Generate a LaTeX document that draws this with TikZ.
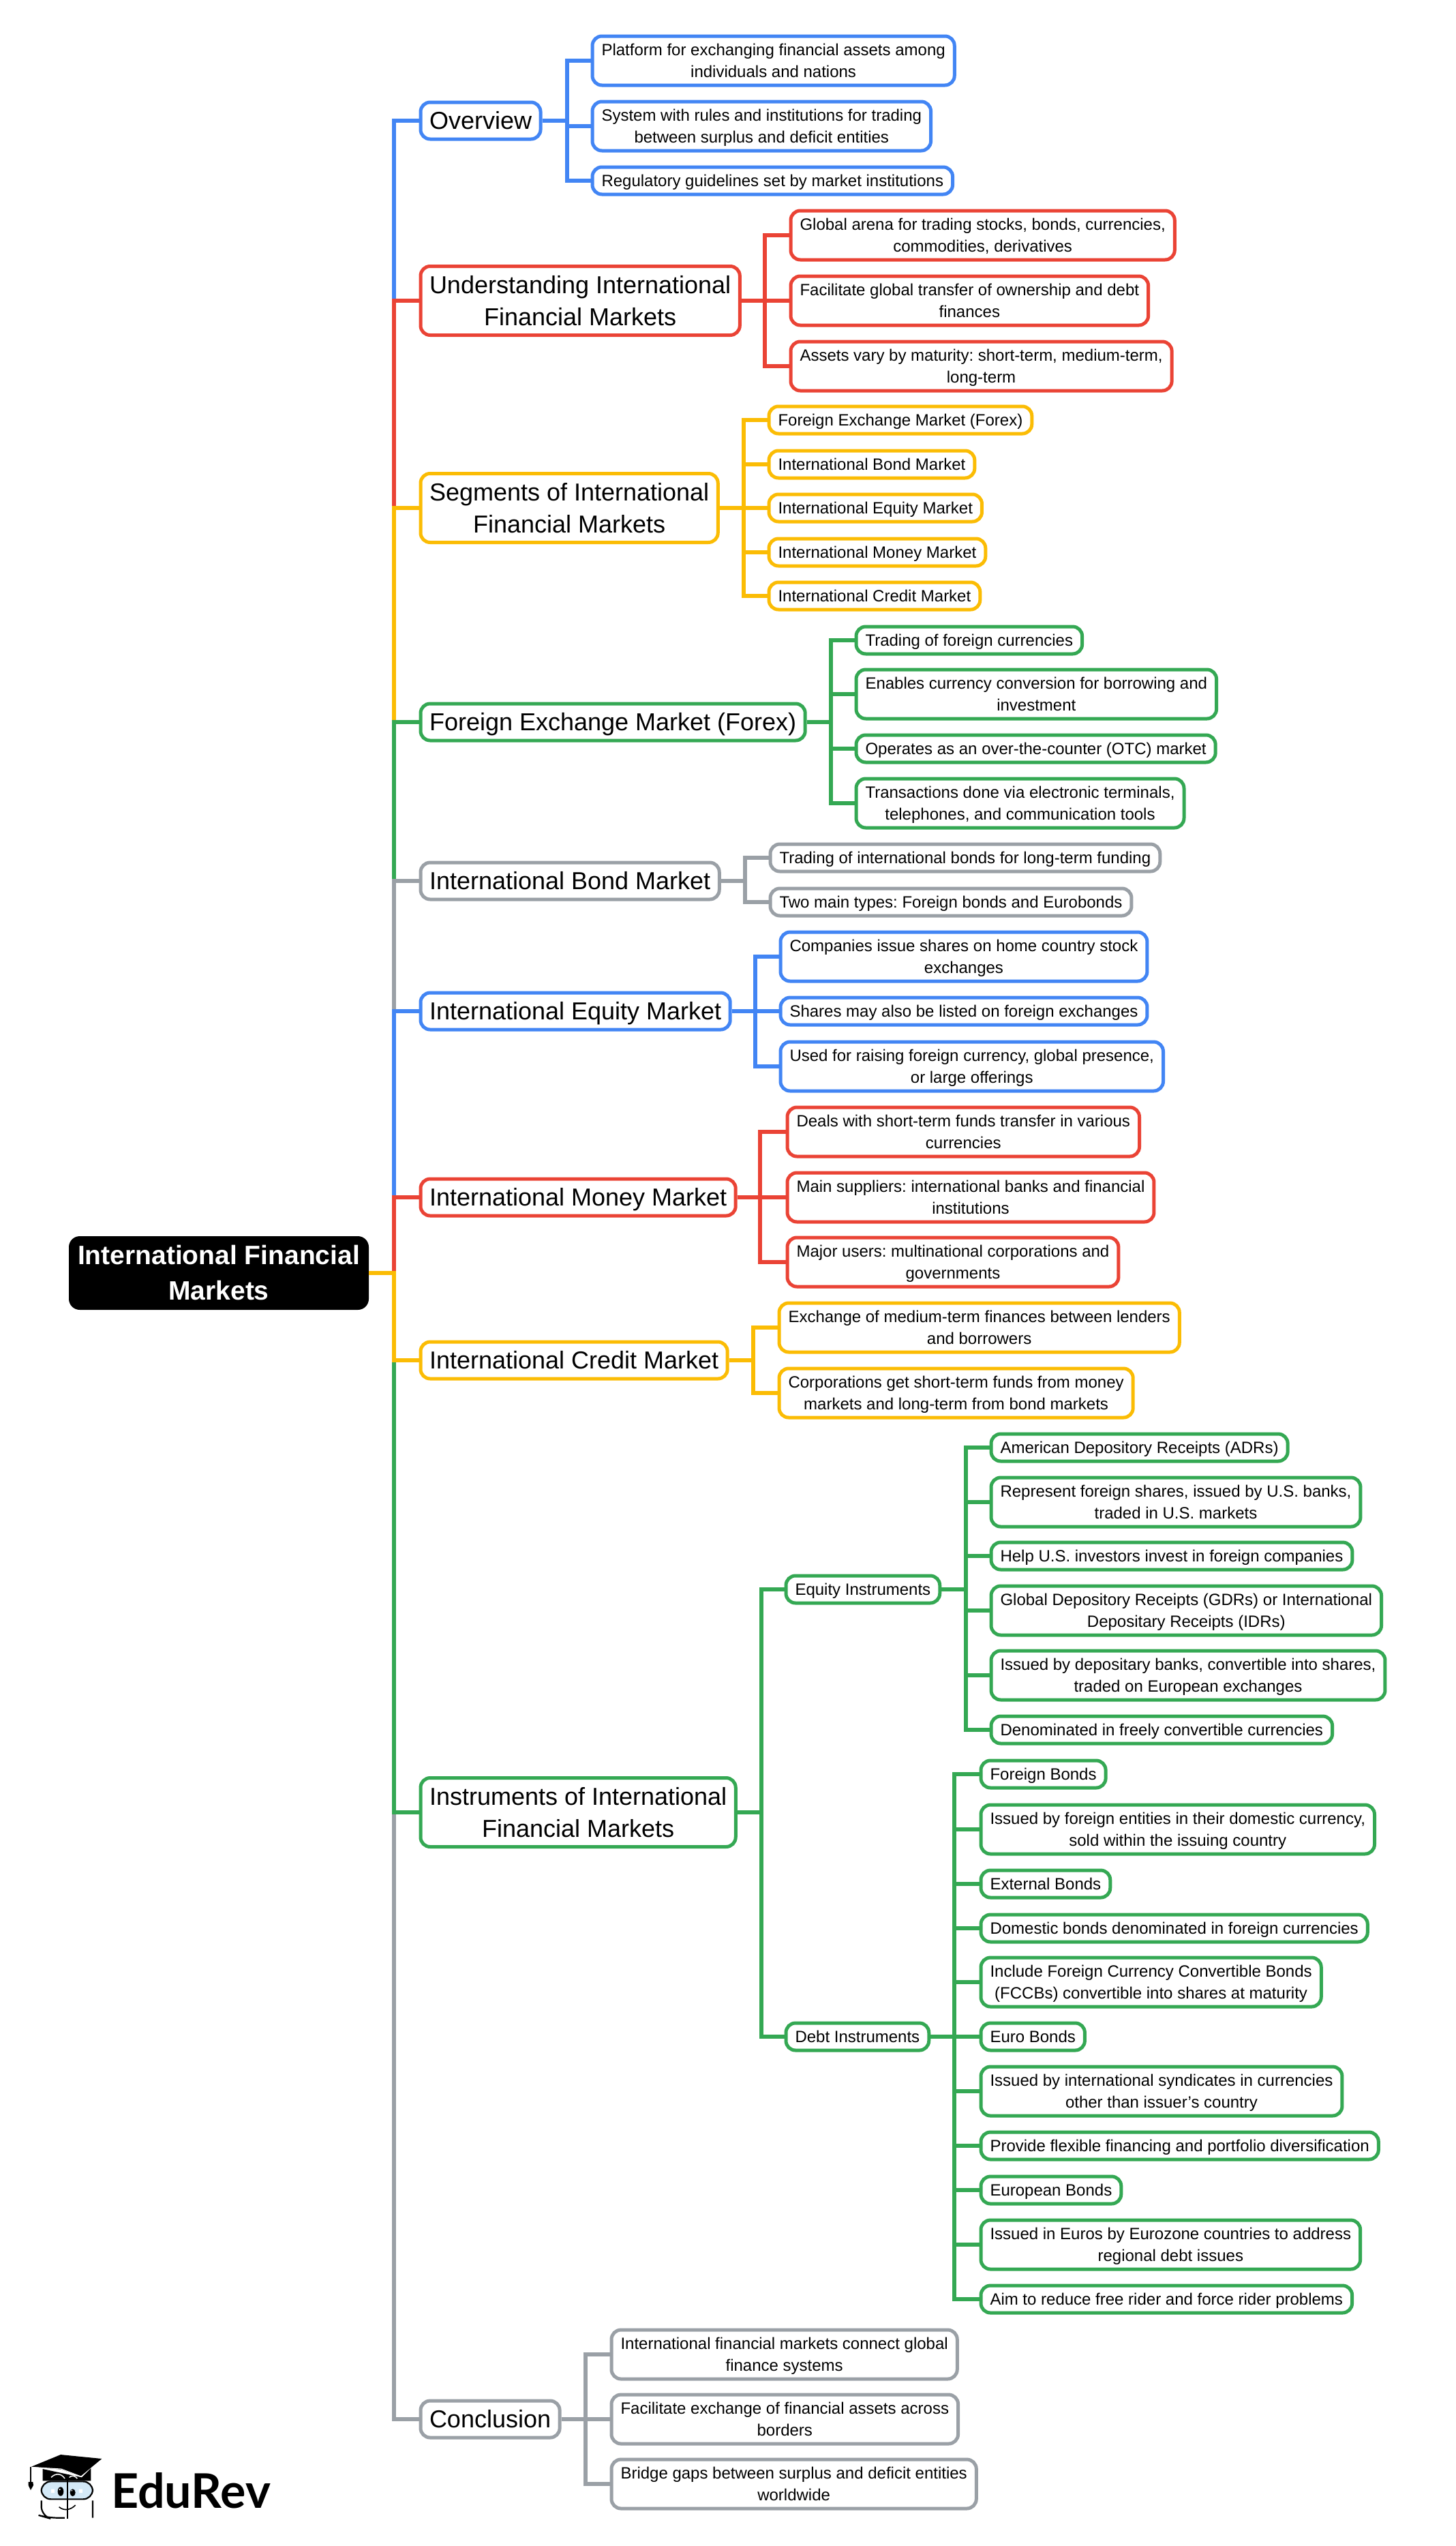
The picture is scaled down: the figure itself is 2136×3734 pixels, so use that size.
\documentclass[tikz,border=0pt]{standalone}
\usepackage{fontspec}
\setmainfont{Liberation Sans}
\newfontfamily\logofont{Lato}
\definecolor{gblue}{HTML}{4285F4}
\definecolor{gred}{HTML}{EA4335}
\definecolor{gyellow}{HTML}{FBBC04}
\definecolor{ggreen}{HTML}{34A853}
\definecolor{ggray}{HTML}{9AA0A6}
\definecolor{lens}{HTML}{D4E9F7}
\newcommand\lst{\vrule height .775\baselineskip depth .225\baselineskip width 0pt\relax}
\tikzset{
  box/.style={draw,line width=5pt,rounded corners=14pt,fill=white,anchor=west,align=center,text=black,xshift=-1.5pt},
  leaf/.style={box,inner xsep=13.5pt,inner ysep=4pt,font=\fontsize{24}{32}\selectfont\frenchspacing},
  topic/.style={box,inner xsep=13pt,inner ysep=3.5pt,font=\fontsize{36}{47}\selectfont\frenchspacing},
  link/.style={line width=6pt},
}
\begin{document}
\begin{tikzpicture}[x=1pt,y=-1pt]
\useasboundingbox (0,0) rectangle (2136,3734);

\node[fill=black,rounded corners=16pt,text=white,align=center,font=\fontsize{39}{52}\selectfont\bfseries,minimum width=440pt,minimum height=108pt,inner sep=0pt] (root) at (321,1867) {International Financial\\Markets};
\coordinate (spine) at (578,1867);

\node[topic,draw=gblue] (ov) at (616,177) {\lst Overview};
\node[topic,draw=gred] (un) at (616,441) {\lst Understanding International\\\lst Financial Markets};
\node[topic,draw=gyellow] (se) at (616,745) {\lst Segments of International\\\lst Financial Markets};
\node[topic,draw=ggreen] (fx) at (616,1059) {\lst Foreign Exchange Market (Forex)};
\node[topic,draw=ggray] (bo) at (616,1292) {\lst International Bond Market};
\node[topic,draw=gblue] (eq) at (616,1483) {\lst International Equity Market};
\node[topic,draw=gred] (mo) at (616,1756) {\lst International Money Market};
\node[topic,draw=gyellow] (cr) at (616,1995) {\lst International Credit Market};
\node[topic,draw=ggreen] (in) at (616,2658) {\lst Instruments of International\\\lst Financial Markets};
\node[topic,draw=ggray] (co) at (616,3548) {\lst Conclusion};

\node[leaf,draw=gblue] (ov1) at (868,89) {\lst Platform for exchanging financial assets among\\\lst individuals and nations};
\node[leaf,draw=gblue] (ov2) at (868,185) {\lst System with rules and institutions for trading\\\lst between surplus and deficit entities};
\node[leaf,draw=gblue] (ov3) at (868,265) {\lst Regulatory guidelines set by market institutions};

\node[leaf,draw=gred] (un1) at (1159,345) {\lst Global arena for trading stocks, bonds, currencies,\\\lst commodities, derivatives};
\node[leaf,draw=gred] (un2) at (1159,441) {\lst Facilitate global transfer of ownership and debt\\\lst finances};
\node[leaf,draw=gred] (un3) at (1159,537) {\lst Assets vary by maturity: short-term, medium-term,\\\lst long-term};

\node[leaf,draw=gyellow] (se1) at (1127,616) {\lst Foreign Exchange Market (Forex)};
\node[leaf,draw=gyellow] (se2) at (1127,681) {\lst International Bond Market};
\node[leaf,draw=gyellow] (se3) at (1127,745) {\lst International Equity Market};
\node[leaf,draw=gyellow] (se4) at (1127,810) {\lst International Money Market};
\node[leaf,draw=gyellow] (se5) at (1127,874) {\lst International Credit Market};

\node[leaf,draw=ggreen] (fx1) at (1255,939) {\lst Trading of foreign currencies};
\node[leaf,draw=ggreen] (fx2) at (1255,1018) {\lst Enables currency conversion for borrowing and\\\lst investment};
\node[leaf,draw=ggreen] (fx3) at (1255,1098) {\lst Operates as an over-the-counter (OTC) market};
\node[leaf,draw=ggreen] (fx4) at (1255,1178) {\lst Transactions done via electronic terminals,\\\lst telephones, and communication tools};

\node[leaf,draw=ggray] (bo1) at (1129,1258) {\lst Trading of international bonds for long-term funding};
\node[leaf,draw=ggray] (bo2) at (1129,1323) {\lst Two main types: Foreign bonds and Eurobonds};

\node[leaf,draw=gblue] (eq1) at (1144,1403) {\lst Companies issue shares on home country stock\\\lst exchanges};
\node[leaf,draw=gblue] (eq2) at (1144,1483) {\lst Shares may also be listed on foreign exchanges};
\node[leaf,draw=gblue] (eq3) at (1144,1564) {\lst Used for raising foreign currency, global presence,\\\lst or large offerings};

\node[leaf,draw=gred] (mo1) at (1154,1660) {\lst Deals with short-term funds transfer in various\\\lst currencies};
\node[leaf,draw=gred] (mo2) at (1154,1756) {\lst Main suppliers: international banks and financial\\\lst institutions};
\node[leaf,draw=gred] (mo3) at (1154,1851) {\lst Major users: multinational corporations and\\\lst governments};

\node[leaf,draw=gyellow] (cr1) at (1142,1947) {\lst Exchange of medium-term finances between lenders\\\lst and borrowers};
\node[leaf,draw=gyellow] (cr2) at (1142,2043) {\lst Corporations get short-term funds from money\\\lst markets and long-term from bond markets};

\node[leaf,draw=ggreen] (ei) at (1152,2331) {\lst Equity Instruments};
\node[leaf,draw=ggreen] (di) at (1152,2987) {\lst Debt Instruments};

\node[leaf,draw=ggreen] (ei1) at (1453,2123) {\lst American Depository Receipts (ADRs)};
\node[leaf,draw=ggreen] (ei2) at (1453,2203) {\lst Represent foreign shares, issued by U.S. banks,\\\lst traded in U.S. markets};
\node[leaf,draw=ggreen] (ei3) at (1453,2282) {\lst Help U.S. investors invest in foreign companies};
\node[leaf,draw=ggreen] (ei4) at (1453,2362) {\lst Global Depository Receipts (GDRs) or International\\\lst Depositary Receipts (IDRs)};
\node[leaf,draw=ggreen] (ei5) at (1453,2457) {\lst Issued by depositary banks, convertible into shares,\\\lst traded on European exchanges};
\node[leaf,draw=ggreen] (ei6) at (1453,2537) {\lst Denominated in freely convertible currencies};

\node[leaf,draw=ggreen] (di1) at (1438,2602) {\lst Foreign Bonds};
\node[leaf,draw=ggreen] (di2) at (1438,2683) {\lst Issued by foreign entities in their domestic currency,\\\lst sold within the issuing country};
\node[leaf,draw=ggreen] (di3) at (1438,2763) {\lst External Bonds};
\node[leaf,draw=ggreen] (di4) at (1438,2828) {\lst Domestic bonds denominated in foreign currencies};
\node[leaf,draw=ggreen] (di5) at (1438,2907) {\lst Include Foreign Currency Convertible Bonds\\\lst (FCCBs) convertible into shares at maturity};
\node[leaf,draw=ggreen] (di6) at (1438,2987) {\lst Euro Bonds};
\node[leaf,draw=ggreen] (di7) at (1438,3067) {\lst Issued by international syndicates in currencies\\\lst other than issuer’s country};
\node[leaf,draw=ggreen] (di8) at (1438,3147) {\lst Provide flexible financing and portfolio diversification};
\node[leaf,draw=ggreen] (di9) at (1438,3212) {\lst European Bonds};
\node[leaf,draw=ggreen] (di10) at (1438,3292) {\lst Issued in Euros by Eurozone countries to address\\\lst regional debt issues};
\node[leaf,draw=ggreen] (di11) at (1438,3372) {\lst Aim to reduce free rider and force rider problems};

\node[leaf,draw=ggray] (co1) at (896,3453) {\lst International financial markets connect global\\\lst finance systems};
\node[leaf,draw=ggray] (co2) at (896,3548) {\lst Facilitate exchange of financial assets across\\\lst borders};
\node[leaf,draw=ggray] (co3) at (896,3643) {\lst Bridge gaps between surplus and deficit entities\\\lst worldwide};

% spine, order matters
\foreach \n/\c in {ov/gblue,un/gred,se/gyellow,fx/ggreen,bo/ggray,eq/gblue,mo/gred,co/ggray,in/ggreen,cr/gyellow}
  \draw[link,\c] (root.east) -- (spine) |- (\n.west);

% branches
\foreach \n/\c/\x/\l in {
  ov/gblue/832/{ov1,ov2,ov3},
  un/gred/1122/{un1,un2,un3},
  se/gyellow/1091/{se1,se2,se3,se4,se5},
  fx/ggreen/1219/{fx1,fx2,fx3,fx4},
  bo/ggray/1093/{bo1,bo2},
  eq/gblue/1108/{eq1,eq2,eq3},
  mo/gred/1115/{mo1,mo2,mo3},
  cr/gyellow/1105/{cr1,cr2},
  in/ggreen/1117/{ei,di},
  ei/ggreen/1417/{ei1,ei2,ei3,ei4,ei5,ei6},
  di/ggreen/1400/{di1,di2,di3,di4,di5,di6,di7,di8,di9,di10,di11},
  co/ggray/859/{co1,co2,co3}}
  \foreach \m in \l
    \draw[link,\c] (\n.east) -- (\x,0 |- \n.east) |- (\m.west);

% logo
\node[font=\fontsize{70}{70}\logofont\bfseries,inner sep=0pt,anchor=base west] (logo) at (163,3678) {EduRev};
\begin{scope}[shift={(20,3570)},x=0.3333pt,y=-0.3333pt]
\fill[rounded corners=14pt,lens,draw=black,line width=2.2pt] (122,208) rectangle (348,286);
\draw[line width=2.2pt,rounded corners=14pt] (122,292) -- (122,360) -- (150,368) -- (225,368) (348,292) -- (348,368);
\fill (128,153) -- (128,205) -- (340,205) -- (340,150) -- (300,190) -- cycle;
\fill (78,143) -- (207,90) -- (388,108) -- (295,185) -- (210,155) -- cycle;
\draw[white,line width=1pt] (78,145) -- (210,153) -- (297,186);
\draw[white,line width=1.5pt] (165,190) .. controls (185,170) and (210,172) .. (225,195);
\draw[white,line width=1.5pt] (245,190) .. controls (255,180) and (270,182) .. (280,195);
\draw[line width=1.2pt] (75,143) -- (75,210);
\fill (65,210) -- (85,210) -- (87,225) -- (75,246) -- (65,225) -- cycle;
\draw[line width=2.2pt] (238,205) -- (238,372);
\draw[line width=1.6pt] (200,320) .. controls (220,338) and (250,335) .. (272,312);
\fill (207,252) ellipse [x radius=13,y radius=20];
\fill (260,257) ellipse [x radius=12,y radius=16];
\fill[white] (203,243) circle (3.5) (256,248) circle (3);
\fill[white] (165,242) rectangle (180,258) (288,242) rectangle (303,258);
\end{scope}
\end{tikzpicture}
\end{document}
